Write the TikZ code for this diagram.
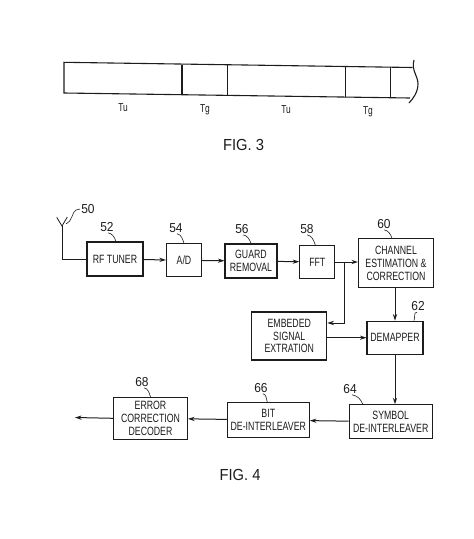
\documentclass[tikz,border=0pt]{standalone}
\usepackage{fontspec}
\setmainfont[FakeStretch=0.73]{Liberation Sans}
\newfontfamily\widefont[FakeStretch=0.92]{Liberation Sans}
\usetikzlibrary{arrows.meta, positioning, calc}
\definecolor{InkGray}{HTML}{1c1c1c}

\begin{document}
\begin{tikzpicture}[
    x=1pt, y=-1pt, >=Stealth, font=\fontsize{12}{12.7}\selectfont, InkGray,
    blk/.style={draw=InkGray, line width=1.1pt, align=center, inner sep=0pt},
    band/.style={line width=1.1pt},
    a/.style={-{Stealth[length=6.5pt,width=4.2pt]}, line width=1pt},
    lead/.style={line width=0.6pt},
    num/.style={font=\widefont\fontsize{13}{15}\selectfont, inner sep=0pt},
    seg/.style={font=\fontsize{11.5}{13}\selectfont, inner sep=0pt},
    ttl/.style={font=\widefont\fontsize{16}{19}\selectfont, inner sep=0pt},
  ]
    \useasboundingbox (0,0) rectangle (474,539);

    % =================== FIG. 3 ===================
    \draw[band] (412.5,67.5) -- (64,62.3) -- (64,93) -- (410,98);
    \draw[band] (182,64.5) -- (182,94.8);
    \draw[band] (227.4,65.2) -- (227.4,95.5);
    \draw[band] (345.3,66.5) -- (345.3,96.8);
    \draw[band] (390.7,67.2) -- (390.7,97.6);
    \draw[band] (414,60) .. controls (411,70) and (418,76) .. (418,84)
                .. controls (418,92) and (413,99) .. (409,103);
    \node[seg] (tu1) at (123,107.5) {Tu};
    \node[seg] (tg1) at (205,110)   {Tg};
    \node[seg] (tu2) at (286,110)   {Tu};
    \node[seg] (tg2) at (368,112)   {Tg};
    \node[ttl] (fig3) at (243.5,145) {FIG. 3};

    % =================== FIG. 4 ===================
    \node[blk, minimum width=56pt, minimum height=34pt] (tuner)  at (115,259)   {RF TUNER};
    \node[blk, minimum width=35pt, minimum height=33pt] (ad)     at (184,260.3) {A/D};
    \node[blk, minimum width=52pt, minimum height=34pt] (guard)  at (251,261)   {GUARD\\REMOVAL};
    \node[blk, minimum width=35pt, minimum height=33pt] (fft)    at (317.3,262) {FFT};
    \node[blk, minimum width=75pt, minimum height=49pt] (chan)   at (396,263.3) {CHANNEL\\ESTIMATION \&\\CORRECTION};
    \node[blk, minimum width=56pt, minimum height=33pt] (demap)  at (395,337.7) {DEMAPPER};
    \node[blk, minimum width=75pt, minimum height=48pt] (embed)  at (289.3,336) {EMBEDED\\SIGNAL\\EXTRATION};
    \node[blk, minimum width=83pt, minimum height=34pt] (symb)   at (390.7,421.8) {SYMBOL\\DE-INTERLEAVER};
    \node[blk, minimum width=82pt, minimum height=35pt] (bit)    at (268.3,420) {BIT\\DE-INTERLEAVER};
    \node[blk, minimum width=74pt, minimum height=42pt] (ecc)    at (150.5,418.3) {ERROR\\CORRECTION\\DECODER};

    % antenna
    \coordinate (ant) at (62,226);
    \coordinate (antL) at (56.7,217.3);
    \coordinate (antR) at (67.3,217);
    \draw[line width=0.8pt] (antL) -- (ant) -- (antR);
    \draw[line width=1pt] (ant) |- (tuner.west);
    \draw[lead] (66,224) .. controls (72,222) and (72,212) .. (76,210) -- (80,209);

    % numbers
    \node[num] (n50) at (88,209)  {50};
    \node[num] (n52) at (107,227) {52};
    \node[num] (n54) at (176,228) {54};
    \node[num] (n56) at (242,229) {56};
    \node[num] (n58) at (307,229) {58};
    \node[num] (n60) at (384,224) {60};
    \node[num] (n62) at (418,306.5) {62};
    \node[num] (n64) at (350,389) {64};
    \node[num] (n66) at (261,388) {66};
    \node[num] (n68) at (142,382) {68};

    % leaders
    \draw[lead] (n52.south) ++(1,1) to[out=-10,in=110] ($(tuner.north)+(1,0)$);
    \draw[lead] (n54.south) ++(1,1) to[out=-10,in=110] ($(ad.north)+(0,0)$);
    \draw[lead] (n56.south) ++(1,1) to[out=-10,in=110] ($(guard.north)+(0,0)$);
    \draw[lead] (n58.south) ++(0,1) to[out=-10,in=110] ($(fft.north)+(-2,0)$);
    \draw[lead] (n60.south) ++(0,1) to[out=-10,in=110] ($(chan.north)+(-4,0)$);
    \draw[lead] (n62.south) ++(-1,1) to[out=170,in=70] ($(demap.north)+(19,0)$);
    \draw[lead] (n64.south) ++(2,1) to[out=-10,in=110] ($(symb.north)+(-28,0)$);
    \draw[lead] (n66.south) ++(2,1) to[out=-10,in=110] ($(bit.north)+(-1,0)$);
    \draw[lead] (n68.south) ++(2,1) to[out=-10,in=110] ($(ecc.north)+(0,0)$);

    % connectors
    \draw[a] (tuner) -- (ad);
    \draw[a] (ad) -- (guard);
    \draw[a] (guard) -- (fft);
    \coordinate (split) at (344,262);
    \draw[a] (fft.east) -- (chan.west |- fft.east);
    \draw[a] (split) |- (embed.east |- 0,323);
    \draw[a] (embed.east |- demap.west) -- (demap.west);
    \draw[a] (chan.south -| demap.north) -- (demap.north);
    \draw[a] (demap.south) -- (symb.north -| demap.south);
    \draw[a] (symb) -- (bit);
    \draw[a] (bit) -- (ecc);
    \coordinate (out) at (75,417.5);
    \draw[a] (ecc.west) -- (out);

    \node[ttl] (fig4) at (240,475) {FIG. 4};
  \end{tikzpicture}
\end{document}
